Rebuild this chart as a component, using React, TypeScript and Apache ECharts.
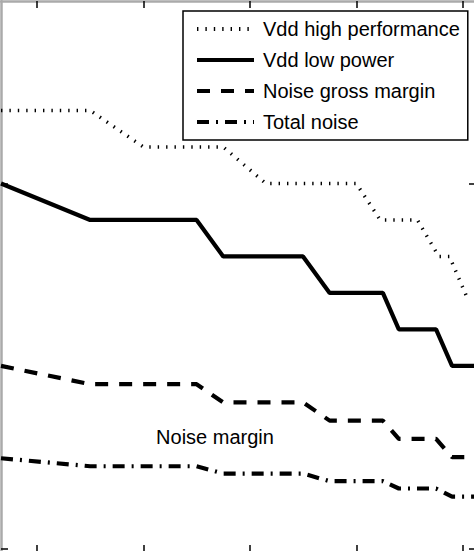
import * as echarts from 'echarts';
import { useEffect, useRef } from 'react';

// x in years from the first tick; y in volts
const xHigh = [-1.35, 2, 4, 7, 8.6, 12, 12.9, 14.3, 15.1, 15.5, 16.15];
const vddHigh = [1.2, 1.2, 1.1, 1.1, 1.0, 1.0, 0.9, 0.9, 0.8, 0.8, 0.69];

const xLow = [-1.35, 2, 6, 7, 10, 11, 13, 13.6, 15, 15.6, 16.6];
const vddLow = [1.0, 0.9, 0.9, 0.8, 0.8, 0.7, 0.7, 0.6, 0.6, 0.5, 0.5];
const noiseGross = [0.5, 0.45, 0.45, 0.4, 0.4, 0.35, 0.35, 0.3, 0.3, 0.25, 0.25];
const totalNoise = [0.247, 0.225, 0.225, 0.205, 0.205, 0.184, 0.184, 0.164, 0.164, 0.142, 0.142];

const xTicks = [0, 4, 8, 12, 16];
const yTicks = [0, 0.5, 1.0];

const seriesNames = ['Vdd high performance', 'Vdd low power', 'Noise gross margin', 'Total noise'];
const annotation = 'Noise margin';

const FONT = '"Liberation Sans", Arial, Helvetica, sans-serif';

const zip = (xs: number[], ys: number[]) => xs.map((x, i) => [x, ys[i]]);

export default function App() {
  const ref = useRef<HTMLDivElement | null>(null);

  useEffect(() => {
    if (!ref.current) return undefined;
    const chart = echarts.init(ref.current, undefined, { renderer: 'svg' });

    const line = (name: string, data: number[][], type: any, width = 4.2) => ({
      type: 'line' as const,
      name,
      data,
      symbol: 'none',
      clip: true,
      lineStyle: { color: '#000', width, type },
      itemStyle: { color: '#000' },
    });

    const tick = { color: '#000', width: 1.5 };
    const xBase = {
      type: 'value' as const,
      min: -1.35,
      max: 16.5,
      axisLabel: { show: false },
      splitLine: { show: false },
      axisTick: { inside: true, length: 7, customValues: xTicks, lineStyle: tick },
    };
    const yBase = {
      type: 'value' as const,
      min: -0.01,
      max: 1.5,
      axisLabel: { show: false },
      splitLine: { show: false },
      axisTick: { inside: true, length: 7, customValues: yTicks, lineStyle: tick },
    };

    chart.setOption({
      animation: false,
      grid: { left: 1, top: 1, right: 4, bottom: 8, containLabel: false },
      xAxis: [
        { ...xBase, position: 'bottom', axisLine: { show: true, onZero: false, lineStyle: tick } },
        { ...xBase, position: 'top', axisLine: { show: true, onZero: false, lineStyle: { color: '#aaa', width: 2.5 } } },
      ],
      yAxis: [
        { ...yBase, position: 'left', axisLine: { show: true, onZero: false, lineStyle: { color: '#aaa', width: 2.5 } } },
        { ...yBase, position: 'right', axisLine: { show: true, onZero: false, lineStyle: tick } },
      ],
      legend: {
        orient: 'vertical',
        left: 183,
        top: 11,
        padding: [8, 8, 8, 12],
        itemWidth: 57,
        itemHeight: 14,
        itemGap: 11,
        backgroundColor: '#fff',
        borderColor: '#000',
        borderWidth: 1.5,
        borderRadius: 0,
        selectedMode: false,
        itemStyle: { color: 'transparent', borderWidth: 0, opacity: 0 },
        lineStyle: { width: 4 },
        textStyle: { fontFamily: FONT, fontSize: 20, color: '#000', padding: [0, 0, 0, 4] },
        data: seriesNames,
      },
      graphic: [
        {
          type: 'text',
          x: 215,
          y: 437,
          style: {
            text: annotation,
            fill: '#000',
            fontFamily: FONT,
            fontSize: 20,
            align: 'center',
            verticalAlign: 'middle',
          },
        },
      ],
      series: [
        line(seriesNames[0], zip(xHigh, vddHigh), [1.4, 7], 3.5),
        line(seriesNames[1], zip(xLow, vddLow), 'solid'),
        line(seriesNames[2], zip(xLow, noiseGross), [13, 11]),
        line(seriesNames[3], zip(xLow, totalNoise), [12, 7, 2, 7]),
      ],
    });

    return () => chart.dispose();
  }, []);

  return (
    <div style={{ position: 'fixed', left: 0, top: 0, width: 474, height: 551, overflow: 'hidden', background: '#fff' }}>
      <div ref={ref} style={{ width: 480, height: 560 }} />
    </div>
  );
}
